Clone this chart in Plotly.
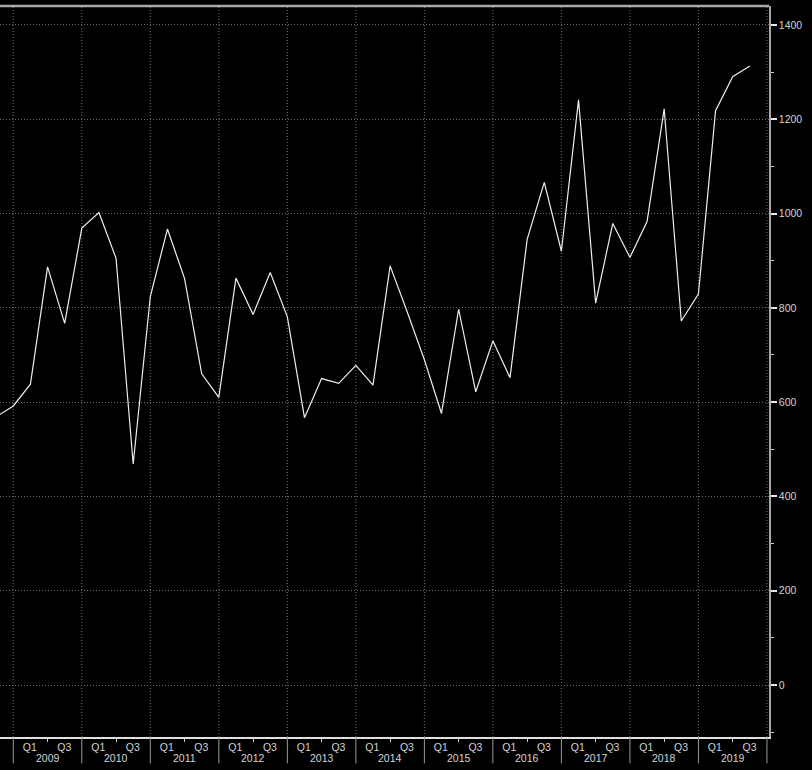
import plotly.graph_objects as go

# ---- data ----
quarters = [
    "2008Q3", "2008Q4",
    "2009Q1", "2009Q2", "2009Q3", "2009Q4",
    "2010Q1", "2010Q2", "2010Q3", "2010Q4",
    "2011Q1", "2011Q2", "2011Q3", "2011Q4",
    "2012Q1", "2012Q2", "2012Q3", "2012Q4",
    "2013Q1", "2013Q2", "2013Q3", "2013Q4",
    "2014Q1", "2014Q2", "2014Q3", "2014Q4",
    "2015Q1", "2015Q2", "2015Q3", "2015Q4",
    "2016Q1", "2016Q2", "2016Q3", "2016Q4",
    "2017Q1", "2017Q2", "2017Q3", "2017Q4",
    "2018Q1", "2018Q2", "2018Q3", "2018Q4",
    "2019Q1", "2019Q2", "2019Q3",
]
values = [
    569, 592,
    638, 887, 767, 969,
    1002, 905, 469, 824,
    967, 862, 660, 610,
    863, 786, 875, 781,
    567, 650, 640, 678,
    636, 889, 791, 690,
    576, 797, 622, 730,
    652, 945, 1066, 920,
    1241, 810, 979, 907,
    983, 1222, 772, 829,
    1218, 1290, 1313,
]
years = list(range(2008, 2020))
quarter_labels = ["Q1", "Q3"]
y_ticks = [0, 200, 400, 600, 800, 1000, 1200, 1400]

# quarter-end position on a decimal-year axis
def q_end(label):
    y, q = label.split("Q")
    return int(y) + int(q) / 4.0

x_vals = [q_end(q) for q in quarters]

# quarter label positions (Q1 and Q3 of each year)
tick_pos, tick_txt = [], []
for yr in years:
    tick_pos += [yr + 0.24, yr + 0.745]
    tick_txt += quarter_labels

TXT = "#d4d4d4"
GRID = "#6e6e6e"
FONT = "Liberation Sans"
DOT = "1px,2px"

fig = go.Figure()
fig.add_trace(go.Scatter(
    x=x_vals, y=values, mode="lines",
    line=dict(color="#eeeeee", width=1.2),
    hoverinfo="skip", showlegend=False,
))

shapes = []
for yr in years + [2020]:
    # dotted year gridline in plot
    shapes.append(dict(type="line", xref="x", yref="paper", x0=yr, x1=yr, y0=0, y1=1,
                       line=dict(color=GRID, width=1, dash=DOT), layer="below"))
    # solid separator below axis
    shapes.append(dict(type="line", xref="x", yref="paper", x0=yr, x1=yr, y0=0, y1=-0.036,
                       line=dict(color="#9a9a9a", width=1)))
# top border
shapes.append(dict(type="line", xref="paper", yref="paper", x0=0, x1=1, y0=1, y1=1,
                   line=dict(color="#a8a8a8", width=2.5)))

annotations = []
for yr in years:
    annotations.append(dict(x=yr + 0.5, y=-0.0285, xref="x", yref="paper",
                            text=str(yr), showarrow=False, yanchor="middle",
                            font=dict(family=FONT, size=10.5, color=TXT)))

fig.update_layout(
    width=812, height=770,
    margin=dict(l=0, r=43, t=6, b=33),
    paper_bgcolor="#000000", plot_bgcolor="#000000",
    shapes=shapes, annotations=annotations,
    xaxis=dict(
        range=[2008.806, 2020.03],
        tickmode="array", tickvals=tick_pos, ticktext=tick_txt,
        ticks="", showgrid=False, zeroline=False,
        showline=True, linecolor="#e0e0e0", linewidth=1.5,
        tickfont=dict(family=FONT, size=10.5, color=TXT),
        minor=dict(tickmode="array", tickvals=[yr + 0.5 for yr in years],
                   ticks="outside", ticklen=3, tickcolor="#d0d0d0", tickwidth=1,
                   showgrid=False),
    ),
    yaxis=dict(
        range=[-110, 1440], side="right",
        tickmode="array", tickvals=y_ticks,
        ticks="outside", ticklen=6, tickwidth=2, tickcolor="#e8e8e8",
        showgrid=True, gridcolor=GRID, griddash=DOT, gridwidth=1,
        zeroline=False,
        showline=True, linecolor="#a8a8a8", linewidth=1.5,
        tickfont=dict(family=FONT, size=10.5, color=TXT),
        minor=dict(dtick=100, tick0=0, ticks="outside", ticklen=3,
                   tickcolor="#d0d0d0", tickwidth=1, showgrid=False),
    ),
)

fig.write_html(
    "out.html",
    config={"displayModeBar": False},
    post_script="document.body.style.margin='0';document.body.style.background='#000';document.body.style.overflow='hidden';",
)
